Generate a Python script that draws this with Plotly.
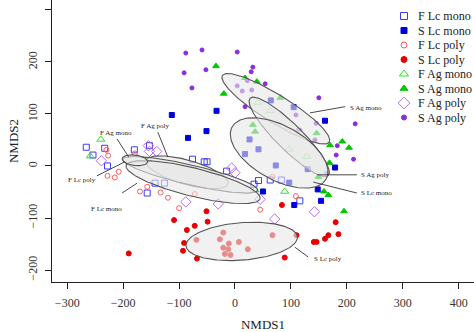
import numpy as np
import plotly.graph_objects as go

# ---------------- data (NMDS scores) ----------------
series_names = ["F Lc mono", "S Lc mono", "F Lc poly", "S Lc poly",
                "F Ag mono", "S Ag mono", "F Ag poly", "S Ag poly"]
series_colors = ["#3b3bff", "#0000dd", "#ff5a5a", "#e80000",
                 "#33dd33", "#00c800", "#b86cf0", "#8a2be2"]
series_symbols = ["square-open", "square", "circle-open", "circle",
                  "triangle-up-open", "triangle-up", "diamond-open", "circle"]
series_sizes = [6, 5, 5, 5, 7, 6, 8, 4]

f_lc_mono_x = [-266, -233, -180, -153, -228, -157, -143, -126, -76, -55, -50, -15,
               34, 42, 63, 83, 116, -254]
f_lc_mono_y = [36, 34, 31, 39, 0, -52, -33, -33, 13, 8, 8, -10,
               -35, -28, -27, -27, -67, 21]
s_lc_mono_x = [-113, -33, -51, -84, 161, 179, 148, 154, 106, 50, 26, 18, 42, 73, 97, 64, 105, 130]
s_lc_mono_y = [98, 106, 67, 54, 87, -3, -45, -67, -75, -49, 51, 23, 32, 1, -32, 126, 113, -6]
f_lc_poly_x = [-230, -227, -208, -215, -228, -170, -157, -133, -120, -100, -72, 45, 67, 109, -179]
f_lc_poly_y = [31, 20, -11, -22, -19, -49, -40, -51, -61, -81, -54, -84, -21, -58, 24]
s_lc_poly_x = [-51, -109, -49, -86, -72, -91, -93, -68, -190, 84, 180, 167, 161, 146, 141, 185,
               110, 89, -21, -69, -27, -11, 7, -21, -12, -18, -8, 23, 67]
s_lc_poly_y = [-87, -104, -107, -123, -115, -148, -163, -178, -168, -75, -108, -133, -140, -146,
               -146, -131, -133, -176, -128, -142, -141, -149, -146, -157, -160, -169, -171, -160, -133]
f_ag_mono_x = [-240, -259, 89, 41, 63, 97, 128, 36]
f_ag_mono_y = [51, 19, -49, 122, 106, 32, 18, -46]
s_ag_mono_x = [-34, -20, 170, 192, 204, 169, 159, 167, 195, 36, 81, 146, 149, 39, 18, 32]
s_ag_mono_y = [192, 139, 40, 47, 35, 6, -49, -56, -87, 66, 131, 63, -21, 162, 169, 79]
f_ag_poly_x = [-155, -153, -140, -239, -88, -30, -6, 0, 45, 71, 142]
f_ag_poly_y = [39, 28, 28, 10, -69, -73, -4, -13, -64, -102, -88]
s_ag_poly_x = [-88, -59, 4, -91, -52, -77, 32, 29, 54, 150, 215, 183, 181,
               4, 13, 22, 30, 18, 116, 143, 145, 109, 113, 212, 164]
s_ag_poly_y = [217, 223, 219, 179, 185, 150, 190, 181, 158, 131, 81, 39, 21,
               154, 144, 164, 146, 114, 69, 50, 82, 98, 69, 13, -14]

series_x = [f_lc_mono_x, s_lc_mono_x, f_lc_poly_x, s_lc_poly_x,
            f_ag_mono_x, s_ag_mono_x, f_ag_poly_x, s_ag_poly_x]
series_y = [f_lc_mono_y, s_lc_mono_y, f_lc_poly_y, s_lc_poly_y,
            f_ag_mono_y, s_ag_mono_y, f_ag_poly_y, s_ag_poly_y]

# ellipses (center, semi-axes, rotation in degrees)
ell_names = ["S Ag mono", "S Ag poly", "S Lc mono", "S Lc poly",
             "F Ag poly", "F Lc poly", "F Lc mono", "F Ag mono"]
ell_cx = [73, 97, 79, 12, -86, -80, -75, -179]
ell_cy = [110, 56, 25, -145, -12, -17, -31, 11]
ell_a = [115, 102, 98, 100, 77, 124, 124, 23]
ell_b = [26, 24, 51, 36, 23, 19, 27, 10]
ell_ang = [-34, -47, -32, 5, -17, -14, -15, -8]

# ellipse labels: text position and leader line (from, to)
lab_text = ["S Ag mono", "S Ag poly", "S Lc mono", "S Lc poly",
            "F Ag poly", "F Ag mono", "F Lc poly", "F Lc mono"]
lab_x = [202, 222, 222, 137, -143, -213, -274, -229]
lab_y = [111, -17, -52, -179, 77, 64, -27, -83]
lab_anchor = ["left", "left", "left", "left", "center", "center", "center", "center"]
line_x0 = [134, 147, 140, 107, -138, -211, -247, -202]
line_y0 = [102, -17, -31, -156, 65, 52, -19, -52]
line_x1 = [197, 218, 218, 131, -120, -190, -197, -175]
line_y1 = [114, -17, -52, -175, 17, 17, 8, -33]

x_ticks = [-300, -200, -100, 0, 100, 200, 300, 400]
y_ticks = [-200, -100, 0, 100, 200, 300]

FONT = "Liberation Serif, Times New Roman, serif"

fig = go.Figure()

for name, xs, ys, col, sym, sz in zip(series_names, series_x, series_y,
                                       series_colors, series_symbols, series_sizes):
    fig.add_trace(go.Scatter(
        x=xs, y=ys, mode="markers", name=name, showlegend=False,
        marker=dict(symbol=sym, size=sz, color=col,
                    line=dict(color=col, width=1)),
    ))

t = np.linspace(0, 2 * np.pi, 200)
for cx, cy, a, b, ang in zip(ell_cx, ell_cy, ell_a, ell_b, ell_ang):
    phi = np.deg2rad(ang)
    ex = cx + a * np.cos(t) * np.cos(phi) - b * np.sin(t) * np.sin(phi)
    ey = cy + a * np.cos(t) * np.sin(phi) + b * np.sin(t) * np.cos(phi)
    fig.add_trace(go.Scatter(
        x=ex, y=ey, mode="lines", fill="toself", showlegend=False,
        fillcolor="rgba(232,232,232,0.6)",
        line=dict(color="#555555", width=1.1), hoverinfo="skip",
    ))

for x0, y0, x1, y1 in zip(line_x0, line_y0, line_x1, line_y1):
    fig.add_shape(type="line", x0=x0, y0=y0, x1=x1, y1=y1, xref="x", yref="y",
                  line=dict(color="#333", width=0.9))
for tx, ty, txt, anc in zip(lab_x, lab_y, lab_text, lab_anchor):
    fig.add_annotation(x=tx, y=ty, text=txt, showarrow=False, xanchor=anc,
                       font=dict(family=FONT, size=7, color="#222"))

# manual legend (R style, no box) on auxiliary axes
for i, (name, col, sym, sz) in enumerate(zip(series_names, series_colors,
                                             series_symbols, series_sizes)):
    fig.add_trace(go.Scatter(
        x=[14.4], y=[16 + 14.5 * i], xaxis="x2", yaxis="y2", mode="markers",
        showlegend=False, hoverinfo="skip",
        marker=dict(symbol=sym, size=sz + 1, color=col, line=dict(color=col, width=1)),
    ))
    fig.add_annotation(x=26, y=16 + 14.5 * i, xref="x2", yref="y2", text=name,
                       showarrow=False, xanchor="left",
                       font=dict(family=FONT, size=12, color="#222"))

fig.update_layout(
    width=474, height=332,
    margin=dict(l=52, r=0, t=0, b=50),
    paper_bgcolor="white", plot_bgcolor="white",
    font=dict(family=FONT, size=12, color="#333"),
    xaxis=dict(range=[-327.3, 427.5], tickvals=x_ticks, ticks="outside", ticklen=6,
               showline=True, linecolor="#222", linewidth=1, tickcolor="#222",
               showgrid=False, zeroline=False, ticklabelstandoff=4,
               title=dict(text="NMDS1", font=dict(family=FONT, size=13, color="#222"),
                          standoff=10),
               tickfont=dict(family=FONT, size=12, color="#333")),
    yaxis=dict(range=[-223, 319], tickvals=y_ticks, ticks="outside", ticklen=6,
               showline=True, linecolor="#222", linewidth=1, tickcolor="#222",
               showgrid=False, zeroline=False, tickangle=-90, ticklabelstandoff=3,
               title=dict(text="NMDS2", font=dict(family=FONT, size=13, color="#222"),
                          standoff=4),
               tickfont=dict(family=FONT, size=12, color="#333")),
    xaxis2=dict(domain=[0.8, 1.0], range=[0, 84.4], visible=False, anchor="y2"),
    yaxis2=dict(domain=[0.539, 1.0], range=[130, 0], visible=False, anchor="x2"),
    showlegend=False,
)

fig.write_html("out.html")
